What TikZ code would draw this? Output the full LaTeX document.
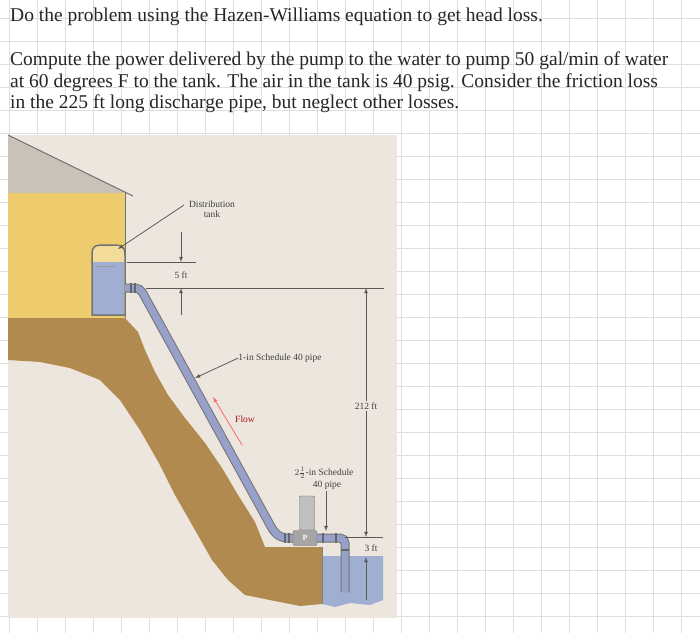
\documentclass[tikz,border=0pt]{standalone}
\usepackage{fontspec}
\setmainfont{Liberation Serif}
\begin{document}
\begin{tikzpicture}[x=1pt,y=-1pt,
  lbl/.style={font=\fontsize{9.5}{10.5}\selectfont, text=black!75, inner sep=0pt, align=center},
  dim/.style={draw=black!65, line width=0.8pt},
  arr/.style={dim,-latex},
  pipeo/.style={line width=9pt, draw=black!55},
  pipei/.style={line width=7pt, draw=pipec},
  body/.style={anchor=base west, inner sep=0pt, font=\fontsize{19.5}{22}\selectfont, text=black!85},
]
\definecolor{panel}{RGB}{236,230,222}
\definecolor{roofc}{RGB}{200,194,184}
\definecolor{wallc}{RGB}{238,204,110}
\definecolor{earth}{RGB}{176,138,78}
\definecolor{waterc}{RGB}{160,174,210}
\definecolor{pipec}{RGB}{150,160,200}
\definecolor{gridc}{RGB}{222,222,222}
\useasboundingbox (0,0) rectangle (700,633);
\fill[white] (0,0) rectangle (700,633);
\foreach \i in {0,...,25} \draw[gridc, line width=0.8pt] (9+28*\i,0) -- (9+28*\i,633);
\foreach \j in {0,...,27} \draw[gridc, line width=0.8pt] (0,18+23*\j) -- (700,18+23*\j);
% text
\node[body] (t1) at (10,21) {Do the problem using the Hazen-Williams equation to get head loss.};
\node[body] (t2) at (10,65) {Compute the power delivered by the pump to the water to pump 50 gal/min of water};
\node[body] (t3) at (10,87) {at 60 degrees F to the tank. The air in the tank is 40 psig. Consider the friction loss};
\node[body] (t4) at (10,108) {in the 225 ft long discharge pipe, but neglect other losses.};
% panel
\fill[panel] (8,135) rectangle (397,618);
% roof and wall
\fill[roofc] (8,135) -- (128,193) -- (8,193) -- cycle;
\draw[black!55, line width=1pt] (8,135) -- (133,196);
\fill[wallc] (8,193) rectangle (125,318);
\draw[black!55, line width=1pt] (125,193) -- (125,318);
% earth
\fill[earth] (8,318) -- (125,318) -- (138,332) -- (145,350) -- (155,372) -- (168,395) -- (185,418) -- (205,443) -- (222,468) -- (238,495) -- (255,522) -- (265,547) -- (322,547) -- (322,604)
 -- (300,606) -- (270,600) -- (245,595) -- (228,580) -- (212,560) -- (195,530) -- (175,495) -- (160,465) -- (140,430) -- (120,400) -- (100,380) -- (70,368) -- (40,362) -- (8,360) -- cycle;
% water reservoir
\fill[waterc] (322,556) -- (383,556) -- (383,600) -- (370,605) -- (350,603) -- (335,607) -- (322,604) -- cycle;
\draw[black!50, line width=0.7pt] (322,547) -- (322,604);
% tank
\fill[wallc!70!white] (92,315) -- (92,255) .. controls (92,245) and (95,245) .. (108,245) .. controls (121,245) and (125,245) .. (125,255) -- (125,315) -- cycle;
\fill[waterc] (93,262) rectangle (124,315);
\draw[black!55, line width=1.5pt] (92,315) -- (92,255) .. controls (92,245) and (95,245) .. (108,245) .. controls (121,245) and (125,245) .. (125,255) -- (125,315) -- cycle;
\draw[black!40, line width=1pt] (96,266) -- (115,266);
% pipes
\coordinate (p0) at (125,288);
\coordinate (p1) at (140,288);
\coordinate (p2) at (274,532);
\coordinate (p3) at (345,538);
\coordinate (p4) at (345,592);
\draw[pipeo, rounded corners=5pt] (p0) -- (p1) -- (p2) -- (282,538) -- (p3) -- (p4);
\draw[pipei, rounded corners=5pt] (p0) -- (p1) -- (p2) -- (282,538) -- (p3) -- (p4);
\foreach \x in {131,135} \draw[black!60, line width=1.2pt] (\x,283) -- (\x,293);
\foreach \x in {285,289,323,336} \draw[black!60, line width=1.2pt] (\x,533) -- (\x,543);
\draw[black!60, line width=1.2pt] (341,550) -- (349,550);
% pump
\node[draw=black!60, fill=black!25, minimum width=15pt, minimum height=34pt, inner sep=0pt, rounded corners=1pt] (motor) at (307,513) {};
\node[draw=black!60, fill=black!35, minimum width=24pt, minimum height=15pt, inner sep=0pt, rounded corners=2pt, font=\fontsize{8}{8}\selectfont\bfseries, text=white] (pump) at (305,538) {P};
% dimension lines
\draw[dim] (127,262) -- (196,262);
\draw[dim] (146,288) -- (384,288);
\draw[dim] (345,537) -- (383,537);
\coordinate (a5t) at (181,232); \coordinate (a5b) at (181,262);
\coordinate (b5t) at (181,315); \coordinate (b5b) at (181,288);
\draw[arr] (a5t) -- (a5b);
\draw[arr] (b5t) -- (b5b);
\node[lbl] (five) at (181,275) {5 ft};
\coordinate (h1) at (366,537); \coordinate (h2) at (366,288);
\node[lbl, fill=panel, inner sep=1pt] (h212) at (366,406) {212 ft};
\draw[arr] (h212) -- (h2);
\draw[arr] (h212) -- (h1);
\coordinate (w0) at (366,600); \coordinate (w1) at (366,557);
\draw[arr] (w0) -- (w1);
\node[lbl, fill=panel, inner sep=1pt] (three) at (371,548) {3 ft};
% labels
\node[lbl] (dist) at (212,209) {Distribution\\tank};
\coordinate (distt) at (118,249);
\draw[arr] (184,205) -- (distt);
\node[lbl] (sch1) at (280,358) {1-in Schedule 40 pipe};
\coordinate (sch1t) at (195,378);
\draw[arr] (sch1.west) -- (sch1t);
\node[lbl, text=red!60!black!90] (flow) at (245,419) {Flow};
\coordinate (fl0) at (242,445); \coordinate (fl1) at (213,397);
\draw[-latex, draw=red!60, line width=0.8pt] (fl0) -- (fl1);
\node[lbl] (sch2) at (324,473) {$2\frac{1}{2}$-in Schedule};
\node[lbl] (sch2b) at (327,485) {40 pipe};
\coordinate (s2t) at (326,531);
\draw[arr] (sch2b.south) ++(-1,2) -- (s2t);
\end{tikzpicture}
\end{document}
